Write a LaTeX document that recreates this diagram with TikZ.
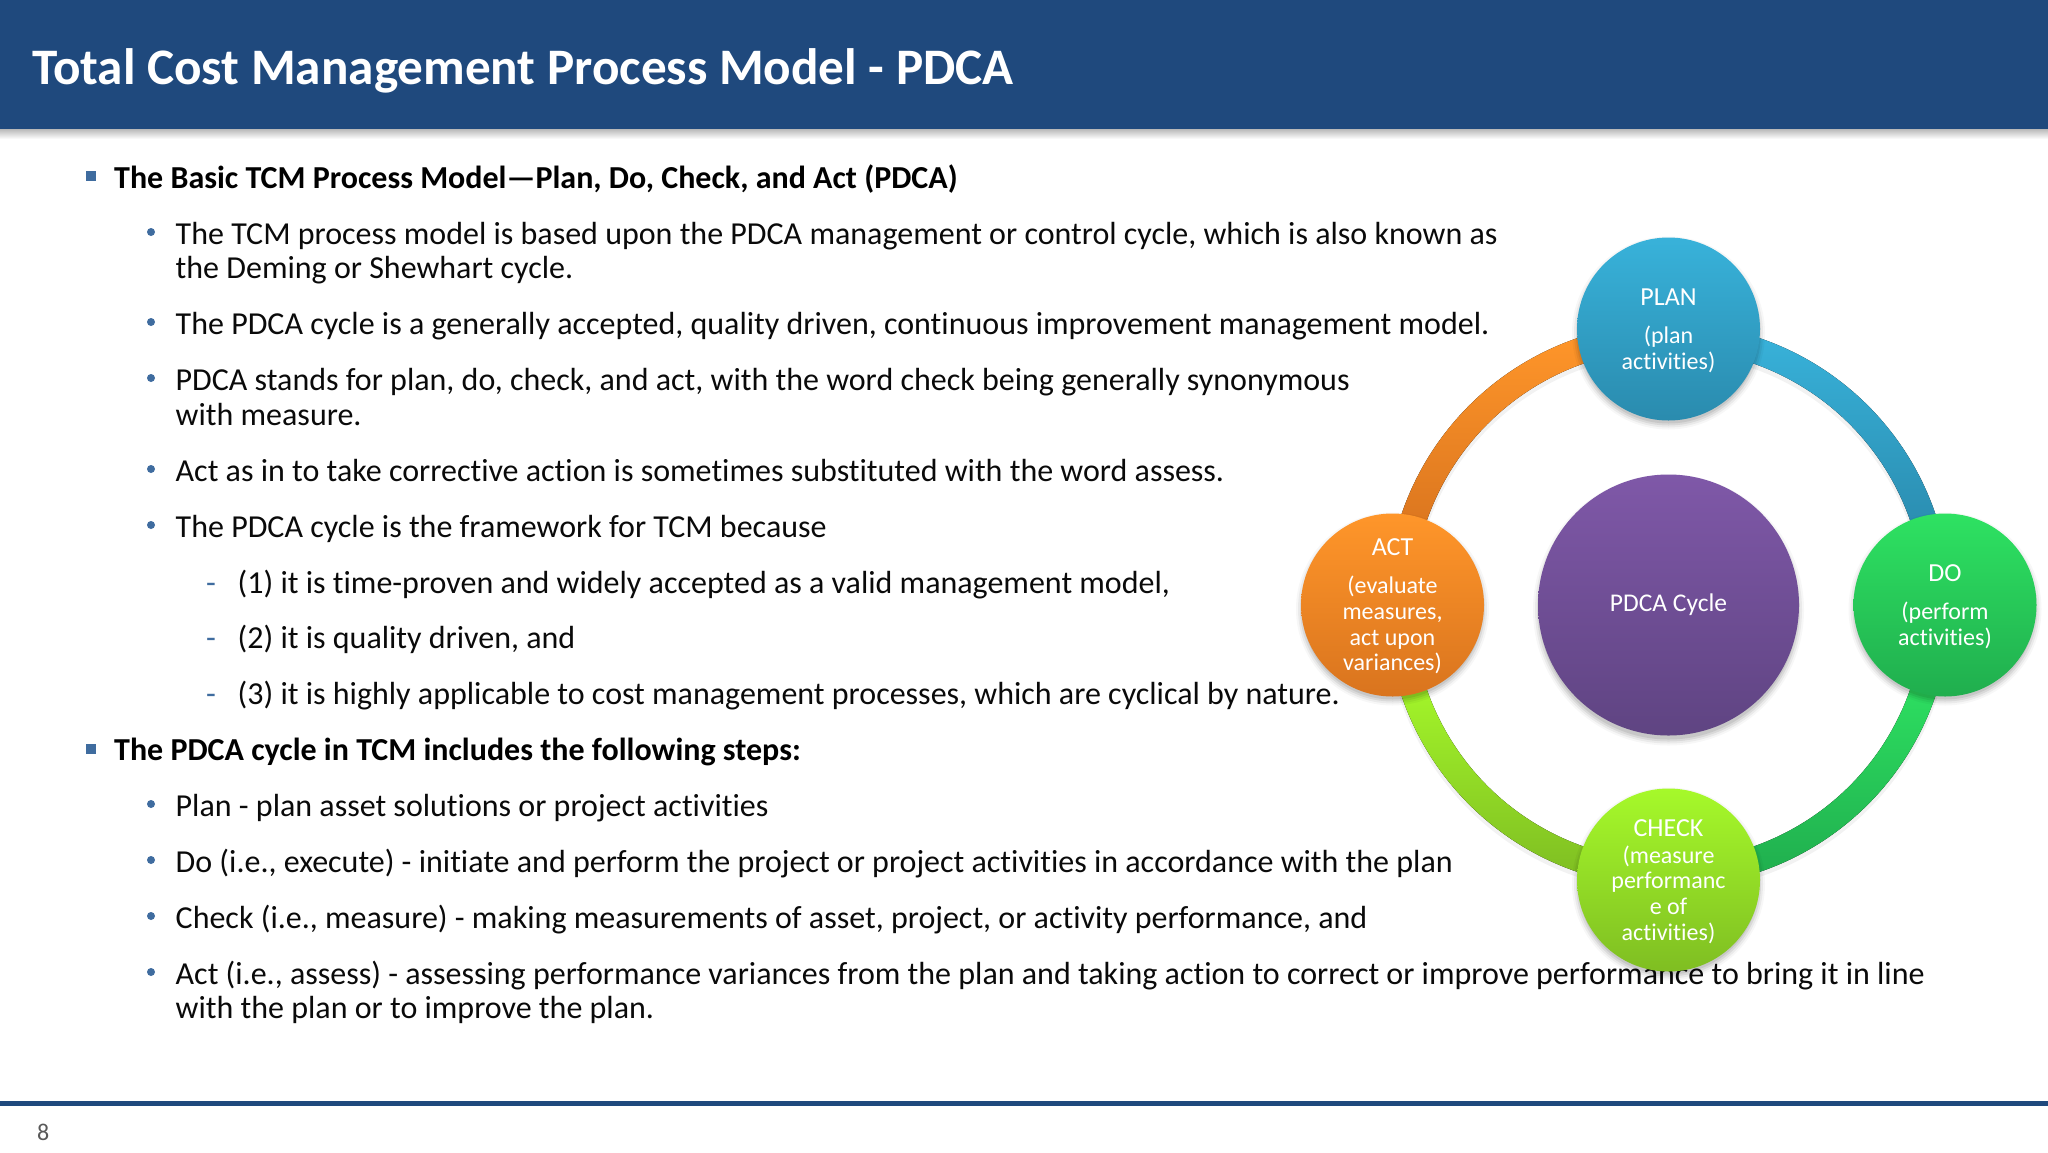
\documentclass[tikz,border=0pt]{standalone}
\usepackage{fontspec}
\setmainfont{Carlito}[Ligatures=NoCommon]
\usetikzlibrary{calc}
\definecolor{barblue}{HTML}{1F497D}
\definecolor{bulblue}{HTML}{3F6C9F}
\definecolor{bodyink}{HTML}{0A0A0A}
\definecolor{planT}{HTML}{38B2DA}\definecolor{planB}{HTML}{2A8BAE}
\definecolor{doT}{HTML}{2EE262}\definecolor{doB}{HTML}{20AE4E}
\definecolor{chkT}{HTML}{A6F92A}\definecolor{chkB}{HTML}{7FBE22}
\definecolor{actT}{HTML}{FF962A}\definecolor{actB}{HTML}{D9741E}
\definecolor{midT}{HTML}{7F58A8}\definecolor{midB}{HTML}{5F4482}
\newcommand{\softshadow}[3]{%
  \foreach \gr/\op in {5/.03,3/.05,1/.07,-1/.08}{
    \fill[black,opacity=\op] (#1,#2) circle[radius=#3pt+\gr pt];
  }}
\newcommand{\ringseg}[4]{%
  \fill[black,opacity=.05] ($(ctr)+(#1:283pt)+(0,4)$) arc[start angle=#1,end angle=#2,radius=283pt]
     -- ($(ctr)+(#2:255pt)+(0,4)$) arc[start angle=#2,end angle=#1,radius=255pt] -- cycle;
  \fill[top color=#3,bottom color=#4] ($(ctr)+(#1:282pt)$) arc[start angle=#1,end angle=#2,radius=282pt]
     -- ($(ctr)+(#2:256pt)$) arc[start angle=#2,end angle=#1,radius=256pt] -- cycle;}
\newcommand{\bubblehead}[1]{\rule{0pt}{20pt}{\fontsize{26}{28}\selectfont #1}}
\tikzset{
  x=1pt,y=-1pt,
  para/.style={anchor=base west,inner sep=0pt,text=bodyink,font=\fontsize{32}{35}\selectfont},
  head/.style={para,text=black,font=\fontsize{32}{35}\selectfont\bfseries},
  dashmark/.style={anchor=base west,inner sep=0pt,text=bulblue,font=\fontsize{32}{35}\selectfont},
  squarebul/.style={fill=bulblue},
  roundbul/.style={fill=bulblue},
  bubble/.style={circle,minimum size=183pt,inner sep=0pt,text=white,align=center,
    font=\fontsize{24}{25.7}\selectfont},
}
\begin{document}
\begin{tikzpicture}
\useasboundingbox (0,0) rectangle (2048,1152);
\fill[white] (0,0) rectangle (2048,1152);
% header
\fill[top color=black!30!white,bottom color=white] (0,128) rectangle (2048,139);
\fill[barblue] (0,0) rectangle (2048,128.5);
\node[anchor=base west,inner sep=0pt,text=white,font=\fontsize{51.2}{56}\selectfont\bfseries] (title) at (32,84) {Total Cost Management Process Model - PDCA};
% bottom rule
\fill[barblue] (0,1101) rectangle (2048,1106);
\node[anchor=base west,inner sep=0pt,text=black!65,font=\fontsize{24}{28}\selectfont] (pagenum) at (37,1140) {8};
% bullets
\foreach \yy in {176,749}{\fill[squarebul] (86,\yy-5) rectangle (96,\yy+5);}
\foreach \yy in {232,322,378,469,525,804,860,916,972}{\fill[roundbul] (151,\yy) circle[radius=4pt];}
% body
\node[head] (h1) at (114,188) {The Basic TCM Process Model—Plan, Do, Check, and Act (PDCA)};
\node[para] (a1) at (175.5,244) {The TCM process model is based upon the PDCA management or control cycle, which is also known as};
\node[para] (a2) at (175.5,278.5) {the Deming or Shewhart cycle.};
\node[para] (b1) at (175.5,334) {The PDCA cycle is a generally accepted, quality driven, continuous improvement management model.};
\node[para] (c1) at (175.5,390) {PDCA stands for plan, do, check, and act, with the word check being generally synonymous};
\node[para] (c2) at (175.5,425) {with measure.};
\node[para] (d1) at (175.5,481) {Act as in to take corrective action is sometimes substituted with the word assess.};
\node[para] (e1) at (175.5,537) {The PDCA cycle is the framework for TCM because};
\node[dashmark] (m1) at (206,593) {-};
\node[dashmark] (m2) at (206,648) {-};
\node[dashmark] (m3) at (206,704) {-};
\node[para] (f1) at (237.5,593) {(1) it is time-proven and widely accepted as a valid management model,};
\node[para] (f2) at (237.5,648) {(2) it is quality driven, and};
\node[para] (f3) at (237.5,704) {(3) it is highly applicable to cost management processes, which are cyclical by nature.};
\node[head] (h2) at (114,760) {The PDCA cycle in TCM includes the following steps:};
\node[para] (g1) at (175.5,816) {Plan - plan asset solutions or project activities};
\node[para] (g2) at (175.5,872) {Do (i.e., execute) - initiate and perform the project or project activities in accordance with the plan};
\node[para] (g3) at (175.5,928) {Check (i.e., measure) - making measurements of asset, project, or activity performance, and};
\node[para] (g4) at (175.5,984) {Act (i.e., assess) - assessing performance variances from the plan and taking action to correct or improve performance to bring it in line};
\node[para] (g5) at (175.5,1018.5) {with the plan or to improve the plan.};
% ring
\coordinate (ctr) at (1668.5,605);
\ringseg{75}{15}{planT}{planB}
\ringseg{-15}{-75}{doT}{doB}
\ringseg{-105}{-165}{chkT}{chkB}
\ringseg{165}{105}{actT}{actB}
% shadows
\softshadow{1668.5}{333}{91.5}
\softshadow{1945}{609}{91.5}
\softshadow{1668.5}{884}{91.5}
\softshadow{1392.5}{609}{91.5}
\softshadow{1668.5}{610}{130.5}
% circles
\node[bubble,top color=planT,bottom color=planB] (plan) at (1668.5,329) {\bubblehead{PLAN}\\[12pt](plan\\activities)};
\node[bubble,top color=doT,bottom color=doB] (do) at (1945,605) {\bubblehead{DO}\\[12pt](perform\\activities)};
\node[bubble,top color=chkT,bottom color=chkB] (check) at (1668.5,880) {\bubblehead{CHECK}\\[1pt](measure\\performanc\\e of\\activities)};
\node[bubble,top color=actT,bottom color=actB] (act) at (1392.5,605) {\bubblehead{ACT}\\[12pt](evaluate\\measures,\\act upon\\variances)};
\node[bubble,minimum size=261pt,top color=midT,bottom color=midB,font=\fontsize{25.5}{28}\selectfont] (pdca) at (ctr) {\raisebox{-1.5pt}{PDCA Cycle}};
\end{tikzpicture}
\end{document}
